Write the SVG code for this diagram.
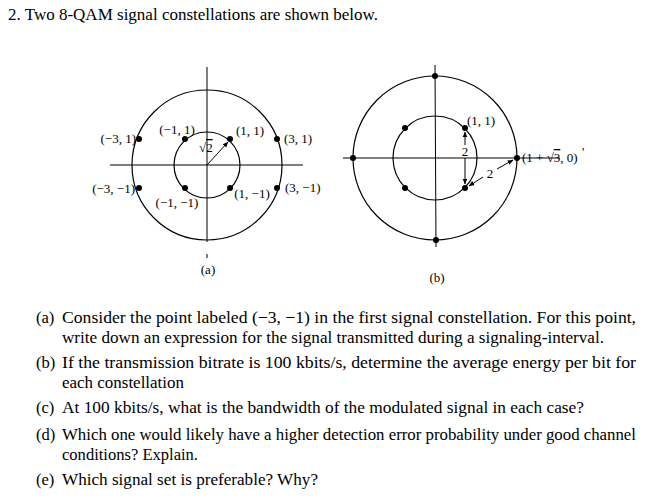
<svg xmlns="http://www.w3.org/2000/svg" width="657" height="504" viewBox="0 0 657 504">
<defs>
<style>
.t{font-family:"Liberation Serif",serif;font-size:16.5px;fill:#000}
.l{font-family:"Liberation Serif",serif;font-size:13px;fill:#000}
.c{fill:none;stroke:#000;stroke-width:1.2}
.ax{stroke:#000;stroke-width:1}
.p{fill:#000}
.ov{text-decoration:overline}
</style>
<marker id="ah" viewBox="0 0 10 10" refX="9" refY="5" markerWidth="6" markerHeight="6" orient="auto-start-reverse"><path d="M0,1 L10,5 L0,9 z" fill="#000"/></marker>
</defs>
<rect width="657" height="504" fill="#fff"/>
<text class="t" x="8" y="20" textLength="370" lengthAdjust="spacingAndGlyphs">2. Two 8-QAM signal constellations are shown below.</text>

<g id="constellation-a">
<line class="ax" x1="110" y1="165" x2="303" y2="165"/>
<line class="ax" x1="207" y1="67" x2="207" y2="242"/>
<line class="ax" x1="207" y1="254" x2="207" y2="258"/>
<circle class="c" cx="207" cy="165" r="33"/>
<circle class="c" cx="207" cy="165" r="75"/>
<g class="p"><circle cx="139" cy="139" r="3"/><circle cx="185" cy="139" r="3"/><circle cx="230" cy="139" r="3"/><circle cx="277" cy="139" r="3"/><circle cx="139" cy="188" r="3"/><circle cx="185" cy="188" r="3"/><circle cx="230" cy="188" r="3"/><circle cx="277" cy="188" r="3"/></g>
<line class="ax" x1="207" y1="165" x2="228" y2="142" marker-end="url(#ah)"/>
<text class="l" x="136" y="143" text-anchor="end">(−3, 1)</text>
<text class="l" x="177" y="134" text-anchor="middle">(−1, 1)</text>
<text class="l" x="250" y="135" text-anchor="middle">(1, 1)</text>
<text class="l" x="284" y="143">(3, 1)</text>
<text class="l" x="135" y="193" text-anchor="end">(−3, −1)</text>
<text class="l" x="177" y="207" text-anchor="middle">(−1, −1)</text>
<text class="l" x="252" y="198" text-anchor="middle">(1, −1)</text>
<text class="l" x="285" y="192">(3, −1)</text>
<text class="l" x="199" y="152">√<tspan class="ov">2</tspan></text>
<text class="l" x="208" y="274" text-anchor="middle">(a)</text>
</g>

<g id="constellation-b">
<line class="ax" x1="343" y1="158" x2="560" y2="158"/>
<line class="ax" x1="435" y1="65" x2="436" y2="247"/>
<circle class="c" cx="435" cy="158" r="42"/>
<circle class="c" cx="435" cy="158" r="82"/>
<g class="p"><circle cx="435" cy="76" r="3"/><circle cx="436" cy="240" r="3"/><circle cx="353" cy="158" r="3"/><circle cx="517" cy="158" r="3"/><circle cx="465" cy="128" r="3"/><circle cx="465" cy="188" r="3"/><circle cx="405" cy="128" r="3"/><circle cx="405" cy="188" r="3"/></g>
<line class="ax" x1="465" y1="132" x2="465" y2="145" marker-start="url(#ah)"/>
<line class="ax" x1="465" y1="158" x2="465" y2="184" marker-end="url(#ah)"/>
<line class="ax" x1="469" y1="186" x2="483" y2="177" marker-start="url(#ah)"/>
<line class="ax" x1="497" y1="169" x2="513" y2="160" marker-end="url(#ah)"/>
<text class="l" x="465" y="156" text-anchor="middle">2</text>
<text class="l" x="490" y="178" text-anchor="middle">2</text>
<text class="l" x="481" y="125" text-anchor="middle">(1, 1)</text>
<text class="l" x="522" y="162" font-size="12">(1 + √<tspan class="ov">3</tspan>, 0)</text>
<text class="l" x="582" y="156">'</text>
<text class="l" x="437" y="282" text-anchor="middle">(b)</text>
</g>

<g id="questions">
<text class="t" x="36" y="323">(a)</text>
<text class="t" x="62" y="323" textLength="574" lengthAdjust="spacingAndGlyphs">Consider the point labeled (−3, −1) in the first signal constellation. For this point,</text>
<text class="t" x="62" y="343" textLength="542" lengthAdjust="spacingAndGlyphs">write down an expression for the signal transmitted during a signaling-interval.</text>
<text class="t" x="36" y="368">(b)</text>
<text class="t" x="62" y="368" textLength="574" lengthAdjust="spacingAndGlyphs">If the transmission bitrate is 100 kbits/s, determine the average energy per bit for</text>
<text class="t" x="62" y="388" textLength="122" lengthAdjust="spacingAndGlyphs">each constellation</text>
<text class="t" x="36" y="413">(c)</text>
<text class="t" x="62" y="413" textLength="522" lengthAdjust="spacingAndGlyphs">At 100 kbits/s, what is the bandwidth of the modulated signal in each case?</text>
<text class="t" x="36" y="440">(d)</text>
<text class="t" x="62" y="440" textLength="574" lengthAdjust="spacingAndGlyphs">Which one would likely have a higher detection error probability under good channel</text>
<text class="t" x="62" y="460" textLength="136" lengthAdjust="spacingAndGlyphs">conditions? Explain.</text>
<text class="t" x="36" y="485">(e)</text>
<text class="t" x="62" y="485" textLength="256" lengthAdjust="spacingAndGlyphs">Which signal set is preferable? Why?</text>
</g>
</svg>
